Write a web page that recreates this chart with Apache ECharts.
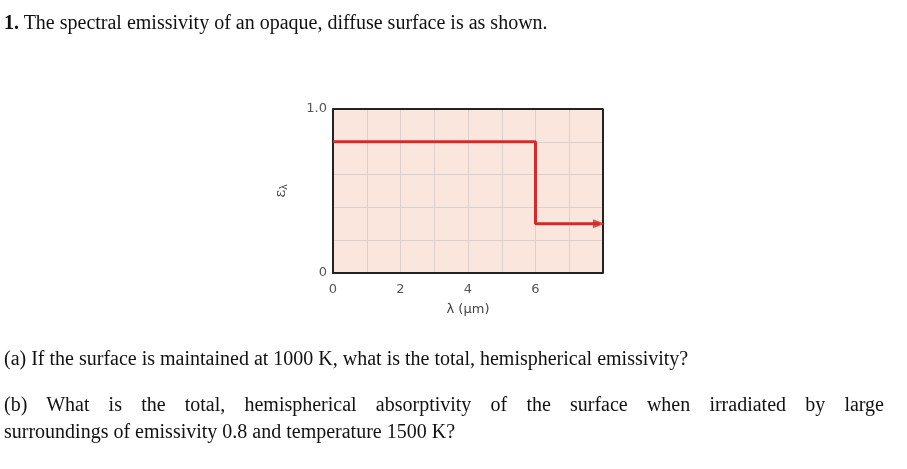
<!DOCTYPE html>
<html>
<head>
<meta charset="utf-8">
<script src="https://cdn.jsdelivr.net/npm/echarts@6/dist/echarts.min.js"></script>
<style>
  body { margin: 0; background: #fff; }
  #wrap { position: relative; width: 907px; height: 469px; font-family: "Liberation Serif", serif; color: #111; }
  #chart { position: absolute; left: 0; top: 0; width: 907px; height: 469px; }
  .t { position: absolute; font-size: 20px; }
</style>
</head>
<body>
<div id="wrap">
  <div id="chart"></div>
  <div class="t" style="left:4px;top:11px;"><b>1.</b> The spectral emissivity of an opaque, diffuse surface is as shown.</div>
  <div class="t" style="left:4px;top:347px;">(a) If the surface is maintained at 1000 K, what is the total, hemispherical emissivity?</div>
  <div class="t" style="left:4px;top:393px;width:880px;text-align:justify;text-align-last:justify;">(b) What is the total, hemispherical absorptivity of the surface when irradiated by large</div>
  <div class="t" style="left:4px;top:420px;">surroundings of emissivity 0.8 and temperature 1500 K?</div>
</div>
<script>
var xTicks = [0, 2, 4, 6];
var yTicks = [0, 1.0];
var emissivity = [[0, 0.8], [6, 0.8], [6, 0.3], [7.9, 0.3]];
var arrowTip = [[7.88, 0.3]];

var chart = echarts.init(document.getElementById('chart'));
chart.setOption({
  animation: false,
  grid: { left: 333, right: 304, top: 109, bottom: 196, backgroundColor: '#fae6dc', show: true, borderWidth: 0 },
  xAxis: {
    type: 'value', min: 0, max: 8, interval: 1,
    name: 'λ (μm)', nameLocation: 'middle', nameGap: 30,
    nameTextStyle: { fontFamily: 'DejaVu Sans', fontSize: 13, color: '#444' },
    axisLine: { lineStyle: { color: '#222', width: 2 } },
    axisTick: { show: false },
    axisLabel: { fontFamily: 'DejaVu Sans', fontSize: 13, color: '#555', margin: 10,
      formatter: function (v) { return xTicks.indexOf(v) >= 0 ? String(v) : ''; } },
    splitLine: { show: true, lineStyle: { color: '#d9d0d0', width: 1 } }
  },
  yAxis: {
    type: 'value', min: 0, max: 1, interval: 0.2,
    name: '{e|ε}{s|λ}', nameLocation: 'middle', nameGap: 44, nameRotate: 90,
    nameTextStyle: { rich: { e: { fontFamily: 'DejaVu Serif', fontSize: 15, color: '#444' }, s: { fontSize: 10, color: '#444', verticalAlign: 'bottom' } } },
    axisLine: { show: true, lineStyle: { color: '#222', width: 2 } },
    axisTick: { show: false },
    axisLabel: { fontFamily: 'DejaVu Sans', fontSize: 13, color: '#555', margin: 6,
      formatter: function (v) { return v === 0 ? '0' : (v === 1 ? '1.0' : ''); } },
    splitLine: { show: true, lineStyle: { color: '#d9d0d0', width: 1 } }
  },
  series: [
    { type: 'line', data: emissivity, symbol: 'none', lineStyle: { color: '#d42a2a', width: 3 }, z: 5 },
    { type: 'scatter', data: arrowTip, symbol: 'triangle', symbolSize: [9, 12], symbolRotate: -90,
      itemStyle: { color: '#d42a2a' }, clip: false, z: 6 },
    // top/right frame
    { type: 'line', data: [[0, 1], [8, 1], [8, 0]], symbol: 'none', lineStyle: { color: '#222', width: 2 }, silent: true }
  ]
});
</script>
</body>
</html>
